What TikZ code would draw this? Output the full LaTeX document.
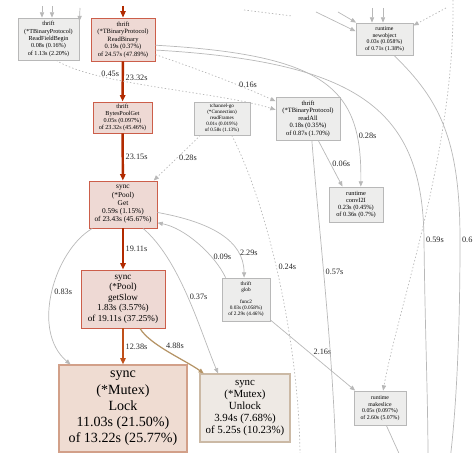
\documentclass[tikz,border=0pt]{standalone}
\usepackage{fontspec}
\setmainfont{Liberation Serif}
\usetikzlibrary{arrows.meta,positioning}
\definecolor{hotedge}{HTML}{B22A00}
\definecolor{hotfill}{HTML}{EED9D4}
\definecolor{hotline}{HTML}{CC5E4A}
\definecolor{warmfill}{HTML}{EFDCD2}
\definecolor{warmline}{HTML}{D2A089}
\definecolor{lockedge}{HTML}{C0501A}
\definecolor{tanedge}{HTML}{B59466}
\definecolor{tanfill}{HTML}{EEE9E4}
\definecolor{tanline}{HTML}{CBB9A5}
\definecolor{coldfill}{HTML}{EDEDEC}
\definecolor{coldline}{HTML}{B8B8B8}
\newcommand\fs[2]{\fontsize{#1pt}{#2pt}\selectfont}
\tikzset{every picture/.style={line width=0.4pt},
  fn/.style={draw=coldline, fill=coldfill, line width=0.45pt, align=center, inner sep=0pt},
  hotfn/.style={fn, draw=hotline, fill=hotfill, line width=0.55pt},
  lockfn/.style={fn, draw=warmline, fill=warmfill, line width=0.6pt},
  tanfn/.style={fn, draw=tanline, fill=tanfill, line width=0.6pt},
  cold/.style={draw=coldline, line width=0.4pt, -{Triangle[length=3pt,width=2.4pt]}},
  colddot/.style={cold, dash pattern=on 0.8pt off 1.2pt},
  hot/.style={draw=hotedge, line width=1.4pt, -{Triangle[length=3.6pt,width=3pt]}},
  lbl/.style={font=\fs{4.7}{5}, inner sep=1pt, text=black!85}}

\begin{document}
\begin{tikzpicture}[x=0.2mm, y=-0.2mm]
    \useasboundingbox (0,0) rectangle (474,453);
    \clip (0,0) rectangle (474,453);
    % 函数节点
    \node[fn, minimum width=12.2mm, minimum height=8.4mm, font=\fs{3.5}{4.2}] (rfb) at (48.5,39)
        {thrift\\(*TBinaryProtocol)\\ReadFieldBegin\\0.08s (0.16\%)\\of 1.13s (2.20\%)};
    \node[hotfn, minimum width=12.8mm, minimum height=8.6mm, font=\fs{3.7}{4.25}] (rbin) at (123,39.5)
        {thrift\\(*TBinaryProtocol)\\ReadBinary\\0.19s (0.37\%)\\of 24.57s (47.89\%)};
    \node[hotfn, minimum width=11.8mm, minimum height=6.2mm, font=\fs{3.5}{4.1}] (bpg) at (122.5,117.5)
        {thrift\\BytesPoolGet\\0.05s (0.097\%)\\of 23.32s (45.46\%)};
    \node[fn, minimum width=11.2mm, minimum height=6.6mm, font=\fs{2.9}{3.4}] (readfr) at (222,118.5)
        {tchannel-go\\(*Connection)\\readFrames\\0.01s (0.019\%)\\of 0.58s (1.13\%)};
    \node[fn, minimum width=12.8mm, minimum height=8.6mm, font=\fs{3.7}{4.25}] (readall) at (308,118.5)
        {thrift\\(*TBinaryProtocol)\\readAll\\0.18s (0.35\%)\\of 0.87s (1.70\%)};
    \node[fn, minimum width=10.8mm, minimum height=7mm, font=\fs{3.6}{4}] (conv) at (356,204.5)
        {runtime\\convI2I\\0.23s (0.45\%)\\of 0.36s (0.7\%)};
    \node[fn, minimum width=11.4mm, minimum height=6.4mm, font=\fs{3.3}{3.7}] (newobj) at (384.5,39)
        {runtime\\newobject\\0.03s (0.058\%)\\of 0.71s (1.38\%)};
    \node[hotfn, minimum width=13.6mm, minimum height=9.4mm, font=\fs{4.2}{4.7}] (get) at (123,204.5)
        {sync\\(*Pool)\\Get\\0.59s (1.15\%)\\of 23.43s (45.67\%)};
    \node[hotfn, minimum width=16.8mm, minimum height=11.6mm, font=\fs{5.2}{6}] (getslow) at (123,299)
        {sync\\(*Pool)\\getSlow\\1.83s (3.57\%)\\of 19.11s (37.25\%)};
    \node[lockfn, minimum width=25.6mm, minimum height=17.4mm, font=\fs{8}{9.2}] (lock) at (123,408.5)
        {sync\\(*Mutex)\\Lock\\11.03s (21.50\%)\\of 13.22s (25.77\%)};
    \node[tanfn, minimum width=18mm, minimum height=13.6mm, font=\fs{6.2}{6.9}] (unlock) at (245,408)
        {sync\\(*Mutex)\\Unlock\\3.94s (7.68\%)\\of 5.25s (10.23\%)};
    \node[fn, minimum width=9.6mm, minimum height=8.6mm, font=\fs{3}{3.4}] (glob) at (246,299.5)
        {thrift\\glob\\\mbox{}\\func2\\0.03s (0.058\%)\\of 2.29s (4.46\%)};
    \node[fn, minimum width=10.4mm, minimum height=6.8mm, font=\fs{3.3}{3.7}] (mkslice) at (380,408)
        {runtime\\makeslice\\0.05s (0.097\%)\\of 2.60s (5.07\%)};
    % 画面外的端点
    \coordinate (inA) at (42,6);   \coordinate (inB) at (52,6);   \coordinate (inC) at (80,8);
    \coordinate (inD) at (123,6);  \coordinate (inE) at (316,12); \coordinate (inF) at (338,12);
    \coordinate (inG) at (372,8);  \coordinate (inH) at (383,8);  \coordinate (inI) at (446,8);
    \coordinate (inJ) at (453,0);  \coordinate (inK) at (244,10); \coordinate (inL) at (292,16);
    \coordinate (outA) at (428,460); \coordinate (outB) at (450,460); \coordinate (outC) at (336,460);
    \coordinate (outD) at (300,460); \coordinate (outE) at (402,460);
    % 热路径
    \draw[hot] (rbin) -- node[lbl, right, pos=0.4] {23.32s} (bpg);
    \draw[hot] (bpg) -- node[lbl, right] {23.15s} (get);
    \draw[hot, line width=1.1pt] (get) -- node[lbl, right] {19.11s} (getslow);
    \draw[hot, draw=lockedge, line width=1pt] (getslow) -- node[lbl, right] {12.38s} (lock);
    \draw[cold, draw=tanedge, line width=0.7pt] (getslow.-60) .. controls (150,345) and (185,360)
        .. node[lbl, pos=0.45, above right=-1pt] {4.88s} (unlock.140);
    % 其余的边
    \draw[cold] (get.218) .. controls (55,250) and (30,330) .. node[lbl, right] {0.83s} (lock.140);
    \draw[cold] (get.-50) .. controls (180,260) and (200,330) .. node[lbl, right] {0.37s} (unlock.128);
    \draw[cold] (get.-13) .. controls (210,222) and (244,240) .. node[lbl, pos=0.75, right] {2.29s} (glob.95);
    \draw[cold] (glob.133) .. controls (215,255) and (185,228) .. node[lbl, pos=0.3, right] {0.09s} (get.-28);
    \draw[cold] (glob.-40) -- node[lbl, above right=-1pt] {2.16s} (mkslice.145);
    \draw[colddot] (readfr.218) -- node[lbl, right] {0.28s} (get.38);
    \draw[colddot] (rbin.-25) .. controls (200,70) and (240,85) .. node[lbl, pos=0.75, above] {0.16s} (readall.152);
    \draw[colddot] (rfb.-70) .. controls (95,85) and (220,92) .. node[lbl, pos=0.3, above] {0.45s} (readall.165);
    \draw[cold] (readall.-65) -- node[lbl, right] {0.06s} (conv.127);
    \draw[cold] (rbin.-10) .. controls (330,55) and (362,90) .. node[lbl, pos=0.8, right] {0.28s} (conv.75);
    \draw[cold, -] (rbin.-18) .. controls (360,62) and (423,110) .. (424,240)
        node[lbl, right] {0.59s} .. controls (425,330) and (428,400) .. (outA);
    \draw[cold, -] (newobj.-60) .. controls (440,100) and (460,140) .. (460,240)
        node[lbl, right] {0.6} .. controls (460,350) and (455,420) .. (outB);
    \draw[cold, -] (readall.-80) .. controls (318,220) and (333,350) .. node[lbl, pos=0.45, right] {0.57s} (outC);
    \draw[colddot, -] (readfr.-60) .. controls (270,210) and (300,350) .. node[lbl, pos=0.45, right] {0.24s} (outD);
    \draw[colddot] (inJ) .. controls (455,150) and (400,300) .. (mkslice.80);
    \draw[cold, -] (mkslice.-70) -- (outE);
    % 上方进入的边
    \draw[cold] (inA) -- (rfb.north -| inA);
    \draw[cold] (inB) -- (rfb.north -| inB);
    \draw[cold] (inC) -- (rfb.30);
    \draw[hot, line width=0.6pt] (inD) -- (rbin);
    \draw[cold] (inE) -- (newobj.165);
    \draw[cold] (inF) -- (newobj.150);
    \draw[cold] (inG) -- (newobj.north -| inG);
    \draw[cold] (inH) -- (newobj.north -| inH);
    \draw[colddot] (inI) -- (newobj.25);
    \draw[colddot, -] (inK) -- (inL);
\end{tikzpicture}
\end{document}
